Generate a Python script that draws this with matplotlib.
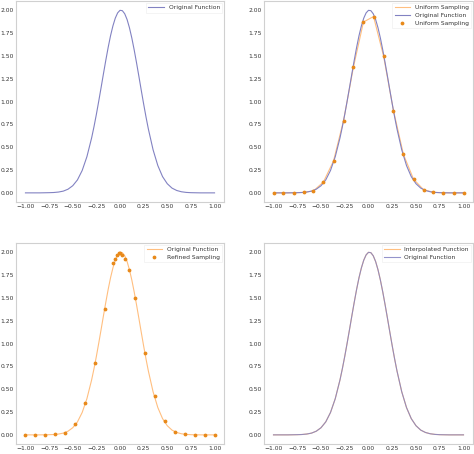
import matplotlib
matplotlib.use("Agg")
import matplotlib.pyplot as plt

# Original function (finer steps near the peak)
x_curve = [-1.00, -0.95, -0.90, -0.85, -0.80, -0.75, -0.70, -0.65, -0.60, -0.55,
           -0.50, -0.45, -0.40, -0.35, -0.30, -0.275, -0.25, -0.225, -0.20, -0.175,
           -0.15, -0.125, -0.10, -0.075, -0.05, -0.025, 0.00, 0.025, 0.05, 0.075,
           0.10, 0.125, 0.15, 0.175, 0.20, 0.225, 0.25, 0.275, 0.30, 0.35,
           0.40, 0.45, 0.50, 0.55, 0.60, 0.65, 0.70, 0.75, 0.80, 0.85,
           0.90, 0.95, 1.00]
y_curve = [0.000, 0.000, 0.000, 0.000, 0.001, 0.002, 0.004, 0.009, 0.019, 0.040,
           0.078, 0.142, 0.245, 0.396, 0.602, 0.725, 0.859, 1.003, 1.152, 1.304,
           1.452, 1.593, 1.720, 1.827, 1.912, 1.970, 1.998, 1.994, 1.960, 1.897,
           1.807, 1.695, 1.565, 1.423, 1.274, 1.122, 0.973, 0.831, 0.699, 0.471,
           0.299, 0.178, 0.100, 0.052, 0.026, 0.012, 0.005, 0.002, 0.001, 0.000,
           0.000, 0.000, 0.000]

# Uniform sampling points
x_uniform = [-1.000, -0.895, -0.789, -0.684, -0.579, -0.474, -0.368, -0.263, -0.158, -0.053,
             0.053, 0.158, 0.263, 0.368, 0.474, 0.579, 0.684, 0.789, 0.895, 1.000]
y_uniform = [0.000, 0.000, 0.001, 0.005, 0.022, 0.120, 0.350, 0.790, 1.380, 1.870,
             1.930, 1.500, 0.900, 0.420, 0.150, 0.035, 0.006, 0.001, 0.000, 0.000]

# Refined sampling points
x_refined = [-1.000, -0.895, -0.789, -0.684, -0.579, -0.474, -0.368, -0.263, -0.158,
             -0.073, -0.048, -0.030, -0.012, 0.005, 0.023, 0.048, 0.090,
             0.158, 0.263, 0.368, 0.474, 0.579, 0.684, 0.789, 0.895, 1.000]
y_refined = [0.000, 0.000, 0.001, 0.005, 0.022, 0.120, 0.350, 0.790, 1.380,
             1.880, 1.930, 1.970, 1.990, 1.990, 1.970, 1.930, 1.800,
             1.500, 0.900, 0.420, 0.150, 0.035, 0.006, 0.001, 0.000, 0.000]

BLUE = "#8282c2"
ORANGE_LINE = "#ffbf80"
ORANGE_PT = "#e8891a"

W, H = 474, 454
fig = plt.figure(figsize=(W / 100, H / 100), dpi=100)
fig.patch.set_facecolor("white")


def make_ax(left, right, top, bottom):
    ax = fig.add_axes([left / W, 1 - bottom / H, (right - left) / W, (bottom - top) / H])
    for s in ax.spines.values():
        s.set_color("#d0d0d0")
        s.set_linewidth(0.8)
    ax.tick_params(length=0, labelsize=4.3, colors="#333333", pad=1.5)
    ax.set_xticks([-1.0, -0.75, -0.5, -0.25, 0.0, 0.25, 0.5, 0.75, 1.0])
    ax.set_yticks([0.0, 0.25, 0.5, 0.75, 1.0, 1.25, 1.5, 1.75, 2.0])
    ax.set_xlim(-1.1, 1.1)
    ax.set_ylim(-0.1, 2.1)
    return ax


def legend(ax):
    lg = ax.legend(loc="upper right", fontsize=4.3, frameon=True, fancybox=False,
                   borderaxespad=0.3, handlelength=2.6, labelspacing=0.4)
    lg.get_frame().set_edgecolor("#f0f0f0")
    lg.get_frame().set_linewidth(0.6)
    for t in lg.get_texts():
        t.set_color("#333333")


ax1 = make_ax(16, 224, 1, 202)
ax1.plot(x_curve, y_curve, color=BLUE, lw=0.8, label="Original Function")
legend(ax1)

ax2 = make_ax(264, 473, 1, 202)
ax2.plot(x_uniform, y_uniform, color=ORANGE_LINE, lw=0.8, label="Uniform Sampling")
ax2.plot(x_curve, y_curve, color=BLUE, lw=0.8, label="Original Function")
ax2.scatter(x_uniform, y_uniform, color=ORANGE_PT, s=3, zorder=3, label="Uniform Sampling")
legend(ax2)

ax3 = make_ax(16, 224, 243, 444)
ax3.plot(x_curve, y_curve, color=ORANGE_LINE, lw=0.8, label="Original Function")
ax3.scatter(x_refined, y_refined, color=ORANGE_PT, s=3, zorder=3, label="Refined Sampling")
legend(ax3)

ax4 = make_ax(264, 473, 243, 444)
ax4.plot(x_curve, y_curve, color=ORANGE_LINE, lw=0.8, label="Interpolated Function")
ax4.plot(x_curve, y_curve, color=BLUE, lw=0.8, alpha=0.85, label="Original Function")
legend(ax4)

fig.savefig("out.png", dpi=100, facecolor="white")
